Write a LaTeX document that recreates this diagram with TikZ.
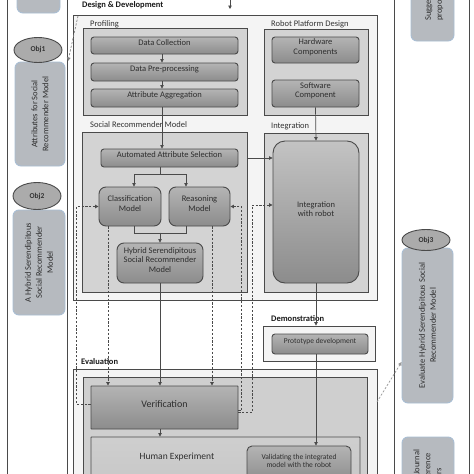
\documentclass[tikz,border=0pt]{standalone}
\usepackage{fontspec}
\setmainfont{Carlito}
\usetikzlibrary{calc,arrows.meta,shapes.geometric,fit}
\definecolor{edge}{HTML}{4A4A4A}
\definecolor{outerfill}{HTML}{F4F4F4}
\definecolor{grpfill}{HTML}{D3D3D3}
\definecolor{ntop}{HTML}{B4B4B4}
\definecolor{nbot}{HTML}{8C8C8C}
\definecolor{objfill}{HTML}{B6BABF}
\definecolor{objedge}{HTML}{A9BED3}
\definecolor{ellfill}{HTML}{ABABAB}
\begin{document}
\begin{tikzpicture}[x=1pt,y=-1pt,
  frame/.style={draw=edge, line width=0.8pt},
  outerbox/.style={draw=edge, fill=outerfill, line width=0.8pt, inner sep=0pt},
  grpbox/.style={draw=edge, fill=grpfill, line width=0.8pt, inner sep=0pt},
  proc/.style={draw=edge, line width=0.9pt, rounded corners=3pt, top color=ntop, bottom color=nbot,
    font=\fontsize{8.5}{9.5}\selectfont, text=black!82, align=center, inner sep=0pt},
  smallproc/.style={proc, font=\fontsize{7.5}{8.5}\selectfont},
  bigproc/.style={proc, rounded corners=7pt},
  sqproc/.style={proc, rounded corners=0.5pt, font=\fontsize{10}{11}\selectfont},
  lbl/.style={font=\fontsize{8.5}{9}\selectfont, anchor=base west, text=black!80, inner sep=0pt},
  blbl/.style={lbl, font=\fontsize{8.5}{9}\selectfont\bfseries, text=black!90},
  arr/.style={-{Triangle[length=3.5pt,width=3.5pt]}, draw=edge, line width=0.7pt},
  darr/.style={arr, dash pattern=on 2.2pt off 1.6pt, line width=0.9pt},
  objbox/.style={draw=objedge, fill=objfill, rounded corners=6pt, line width=0.9pt, inner sep=0pt},
  objtxt/.style={font=\fontsize{8.5}{11}\selectfont, text=black!82, align=center, inner sep=1pt},
  objell/.style={ellipse, draw=edge, fill=ellfill, line width=0.9pt, inner sep=0pt,
    font=\fontsize{7.5}{8}\selectfont\bfseries, text=black!80}
]
\useasboundingbox (0,0) rectangle (474,474);
\clip (0,0) rectangle (474,474);
\fill[white] (0,0) rectangle (474,474);

% ---------- side columns ----------
\draw[frame] (7,-5) rectangle (67,480);
\draw[frame] (394,-5) rectangle (469,480);

% left column
\node[objbox, fit={(17,-30) (60,13)}] (topl) {};
\node[objbox, fit={(15,62) (65,166)}] (o1box) {};
\node[objtxt, rotate=90] at (o1box.center) {Attributes for Social\\Recommender Model};
\node[objell, minimum width=48pt, minimum height=25pt] (obj1) at (38,50) {Obj1};
\node[objbox, fit={(13,210) (65,315)}] (o2box) {};
\node[objtxt, rotate=90] at (o2box.center) {A Hybrid Serendipitous\\Social Recommender\\Model};
\node[objell, minimum width=48pt, minimum height=27pt] (obj2) at (37,196) {Obj2};

% right column
\node[objbox, fit={(411,-60) (454,41)}] (topr) {};
\node[objtxt, rotate=90, anchor=west, align=left] at (434,22) {Suggestions for the\\proposed model};
\node[objbox, fit={(402,248) (453,403)}] (o3box) {};
\node[objtxt, rotate=90] at (o3box.center) {Evaluate Hybrid Serendipitous Social\\Recommender Model};
\node[objell, minimum width=48pt, minimum height=21pt] (obj3) at (426,240) {Obj3};
\node[objbox, fit={(402,437) (454,540)}] (pubbox) {};
\node[objtxt, rotate=90] at (428,480) {Published Journal\\and Conference\\Papers};

% ---------- Design & Development ----------
\node[blbl] at (82,7) {Design \& Development};
\node[outerbox, fit={(73,15) (377,300)}] (dd) {};

\node[lbl] at (90,26) {Profiling};
\node[grpbox, fit={(83,28) (247,115)}] (prof) {};
\node[proc, fit={(91,37) (238,54)}] (dc) {Data Collection};
\node[proc, fit={(91,63) (238,81)}] (dp) {Data Pre-processing};
\node[proc, fit={(91,89) (238,107)}] (aa) {Attribute Aggregation};

\node[lbl] at (271,26) {Robot Platform Design};
\node[grpbox, fit={(264,29) (368,115)}] (rpd) {};
\node[proc, fit={(272,37) (359,63)}] (hw) {Hardware\\Components};
\node[proc, fit={(272,80) (359,107)}] (sw) {Software\\Component};

\node[lbl] at (90,127) {Social Recommender Model};
\node[grpbox, fit={(82,132) (247,292)}] (srm) {};
\node[proc, fit={(101,149) (238,167)}] (aas) {Automated Attribute Selection};
\node[bigproc, fit={(99,187) (161,226)}] (cl) {Classification\\Model};
\node[bigproc, fit={(169,187) (230,226)}] (rs) {Reasoning\\Model};
\node[bigproc, fit={(117,243) (203,283)}] (hy) {Hybrid Serendipitous\\Social Recommender\\Model};

\node[lbl] at (271,128) {Integration};
\node[grpbox, fit={(264,133) (368,292)}] (integ) {};
\node[proc, rounded corners=12pt, top color=ntop!80, fit={(273,141) (359,283)}] (iw) {Integration\\with robot};

% ---------- Demonstration ----------
\node[blbl] at (271,321) {Demonstration};
\node[draw=edge, fill=outerfill, line width=0.8pt, inner sep=0pt, fit={(263,326) (375,361)}] (demo) {};
\node[smallproc, fit={(272,334) (368,354)}] (proto) {Prototype development};

% ---------- Evaluation ----------
\node[blbl] at (81,364) {Evaluation};
\node[outerbox, fit={(73,369) (377,520)}] (ev) {};
\node[grpbox, fill=gray!38, fit={(83,377) (367,520)}] (evin) {};
\node[sqproc, fit={(91,386) (238,429)}] (ver) {Verification};
\node[sqproc, top color=gray!38, bottom color=gray!48, fit={(91,437) (360,520)}] (hum) {};
\node[font=\fontsize{9.5}{10}\selectfont, text=black!82] at (177,457) {Human Experiment};
\node[smallproc, rounded corners=5pt, fit={(247,446) (351,482)}] (val) {};
\node[font=\fontsize{7.5}{8.5}\selectfont, text=black!82, align=center] at (299,461) {Validating the integrated\\model with the robot};

% ---------- solid connectors ----------
\coordinate (topin) at (230,-5);
\coordinate (topout) at (230,9);
\draw[arr] (topin) -- (topout);
\draw[arr] ($(dc.south)+(-2.5,0)$) -- ($(dp.north)+(-2.5,0)$);
\draw[arr] ($(dp.south)+(-2.5,0)$) -- ($(aa.north)+(-2.5,0)$);
\draw[arr] ($(aa.south)+(-2.5,0)$) -- ($(aas.north)+(-7.5,0)$);
\draw[arr] (sw.south) -- (iw.north);
\draw[arr] ($(aas.south)+(-9.5,0)$) -- ++(0,7) -| ($(cl.north)+(4,0)$);
\draw[arr] ($(aas.south)+(-9.5,0)$) -- ++(0,7) -| ($(rs.north)+(-13.5,0)$);
\draw[edge, line width=0.7pt] ($(cl.south)+(4,0)$) -- ++(0,7) -| ($(rs.south)+(-13.5,0)$);
\draw[arr] ($(hy.north)+(0,-10)$) -- (hy.north);
\draw[arr] (hy.south) -- (hy.south |- ver.north);
\draw[arr] (srm.east |- aas.east) -- (iw.west |- aas.east);
\draw[arr] (iw.south) -- (iw.south |- demo.north);
\draw[arr] (iw.south |- proto.south) -- (iw.south |- val.north);
\draw[arr] (hy.south |- ver.south) -- (hy.south |- hum.north);

% ---------- dashed connectors ----------
\draw[darr] ($(ver.west)+(0,-3.5)$) -- ++(-14,0) |- (cl.west);
\coordinate (cd) at ($(cl.south)+(-22,0)$);
\draw[darr] (cd) -- (cd |- ver.north);
\coordinate (rd) at ($(rs.south)+(12.5,0)$);
\draw[darr] (rd) -- (rd |- ver.north);
\draw[darr] ($(ver.east)+(0,3)$) -- ++(3,0) |- (rs.east);
\draw[darr] ($(ver.east)+(0,4.5)$) -- ++(14,0) |- ($(iw.west)+(0,-7)$);
\coordinate (dl1) at (78,16);
\coordinate (dl2) at (68,61);
\draw[darr, draw=gray, line width=0.7pt] (dl1) -- (dl2);
\coordinate (e3) at (377,402);
\draw[darr, draw=gray!80, line width=0.7pt] (e3) -- ($(o3box.west)+(0,36.5)$);
\end{tikzpicture}
\end{document}
